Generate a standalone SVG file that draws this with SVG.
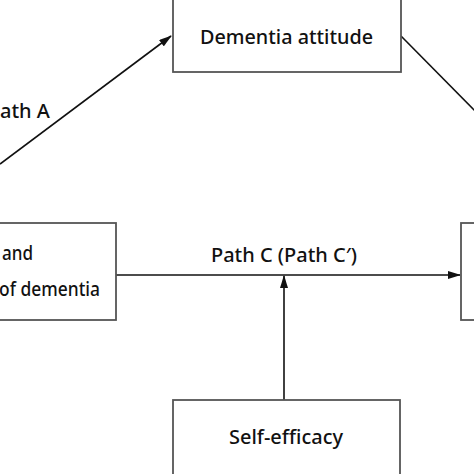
<svg xmlns="http://www.w3.org/2000/svg" width="474" height="474" viewBox="0 0 474 474">
<style>
.box{fill:#fff;stroke:#555;stroke-width:1.8}
.lbl{font-family:"Noto Sans","Open Sans",sans-serif;font-size:20.5px;font-weight:500;fill:#111}
.ln{stroke:#111;stroke-width:1.6;fill:none}
</style>
<defs>
<marker id="ah" markerWidth="13" markerHeight="8" refX="12" refY="4" orient="auto" markerUnits="userSpaceOnUse">
<path d="M0,0 L13,4 L0,8 Z" fill="#111"/>
</marker>
</defs>
<rect width="474" height="474" fill="#fff"/>
<g id="connectors">
<line class="ln" x1="0" y1="164" x2="171" y2="36" marker-end="url(#ah)"/>
<line class="ln" x1="401" y1="36" x2="476" y2="112"/>
<line class="ln" x1="116" y1="275" x2="460" y2="275" marker-end="url(#ah)"/>
<line class="ln" x1="284" y1="400" x2="284" y2="276" marker-end="url(#ah)"/>
<text class="lbl" x="50" y="118" text-anchor="end" textLength="50" lengthAdjust="spacingAndGlyphs">ath A</text>
<text class="lbl" x="211" y="262" textLength="146" lengthAdjust="spacingAndGlyphs">Path C (Path C′)</text>
</g>
<g id="node-attitude">
<rect class="box" x="173" y="-1" width="228" height="73"/>
<text class="lbl" x="200" y="44" textLength="173" lengthAdjust="spacingAndGlyphs">Dementia attitude</text>
</g>
<g id="node-knowledge">
<rect class="box" x="-10" y="223" width="126" height="97"/>
<text class="lbl" x="33" y="260" text-anchor="end" textLength="31" lengthAdjust="spacingAndGlyphs">and</text>
<text class="lbl" x="100" y="296" text-anchor="end" textLength="101" lengthAdjust="spacingAndGlyphs">of dementia</text>
</g>
<g id="node-right">
<rect class="box" x="461" y="223" width="30" height="97"/>
</g>
<g id="node-selfefficacy">
<rect class="box" x="173" y="400" width="227" height="80"/>
<text class="lbl" x="229" y="444" textLength="114" lengthAdjust="spacingAndGlyphs">Self-efficacy</text>
</g>
</svg>
